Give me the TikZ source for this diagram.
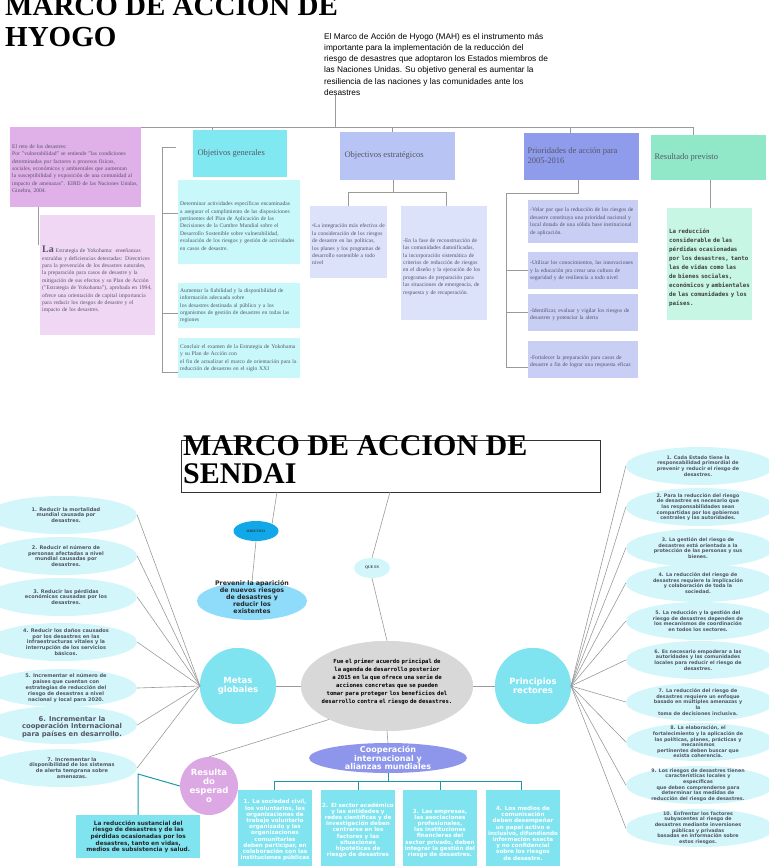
\documentclass[tikz,border=0pt]{standalone}
\usepackage{fontspec}
\setmainfont{Liberation Serif}
\newfontfamily\arial{Liberation Sans}
\newfontfamily\dvb{DejaVu Sans}
\newfontfamily\mono{DejaVu Sans Mono}
\usetikzlibrary{shapes.geometric}
\hyphenpenalty=10000 \exhyphenpenalty=10000
\definecolor{lnk}{HTML}{9A9A9A}
\definecolor{teal}{HTML}{1A9AA8}
\definecolor{pur1}{HTML}{E0B0E8}
\definecolor{pur2}{HTML}{F0D8F4}
\definecolor{ogh}{HTML}{80E8F0}
\definecolor{ogb}{HTML}{C8F8FA}
\definecolor{oeh}{HTML}{B8C4F4}
\definecolor{oeb}{HTML}{DCE2FA}
\definecolor{prh}{HTML}{8F9CEC}
\definecolor{prb}{HTML}{C8CEF4}
\definecolor{rph}{HTML}{90E8C8}
\definecolor{rpb}{HTML}{C8F6E4}
\definecolor{lcy}{HTML}{D2F6FA}
\definecolor{cyc}{HTML}{80E4F0}
\definecolor{objc}{HTML}{10A8E8}
\definecolor{prevc}{HTML}{8EDCFA}
\definecolor{grayc}{HTML}{D8D8D8}
\definecolor{coop}{HTML}{8E96EC}
\definecolor{resc}{HTML}{DCA8E4}
\definecolor{txt}{HTML}{555566}
\tikzset{
 ln/.style={draw=lnk,line width=0.6pt},
 tl/.style={draw=teal,line width=1pt},
 bx/.style={anchor=north west,inner sep=2pt,align=left,font=\fontsize{5.6}{7.4}\selectfont,text=txt},
 el/.style={ellipse,inner sep=0pt},
 sm/.style={font=\dvb\bfseries\fontsize{5}{5.8}\selectfont,text=txt,align=center},
 wt/.style={font=\dvb\bfseries\fontsize{8.5}{9}\selectfont,text=white,align=center},
 wb/.style={font=\dvb\bfseries\fontsize{5.6}{6.2}\selectfont,text=white,align=center,anchor=north,inner sep=1pt,text width=72pt},
}
\begin{document}
\begin{tikzpicture}[x=1pt,y=-1pt]
\useasboundingbox (0,0) rectangle (768,866);
% ---------------- HYOGO
\node[anchor=north west,align=left,inner sep=0,font=\bfseries\fontsize{29}{31}\selectfont] (t1) at (5,-4) {MARCO DE ACCION DE\\HYOGO};
\node[anchor=north west,align=left,inner sep=0,font=\arial\fontsize{8.3}{11.2}\selectfont] (intro) at (324,33) {El  Marco de Acción de Hyogo (MAH) es el instrumento más\\importante para la implementación de la reducción del\\riesgo de desastres que adoptaron los Estados miembros de\\las Naciones Unidas. Su objetivo general es aumentar la\\resiliencia de las naciones y las comunidades ante los\\desastres};
\coordinate (h0) at (335,127);
\draw[ln] (335,95) -- (h0);
\draw[ln] (70,127) -- (693,127);
\foreach \x/\y in {70/127,212/130,392/132,570/133,693/135}{\draw[ln] (\x,127)--(\x,\y);}
% purple
\node[bx,fill=pur1,minimum width=131pt,minimum height=80pt,text width=127pt] (p1) at (10,127) {\\El reto de los desastres:\\Por "vulnerabilidad" se entiende "las condiciones determinadas por factores o procesos físicos, sociales, económicos y ambientales que aumentan la susceptibilidad y exposición de una comunidad al impacto de amenazas". EIRD de las Naciones Unidas, Ginebra, 2004.};
\node[bx,fill=pur2,minimum width=115pt,minimum height=120pt,text width=111pt] (p2) at (40,215) {\\[8pt]{\fontsize{10}{10}\selectfont\bfseries La} Estrategia de Yokohama: enseñanzas extraídas y deficiencias detectadas: Directrices para la prevención de los desastres naturales, la preparación para casos de desastre y la mitigación de sus efectos y su Plan de Acción ("Estrategia de Yokohama"), aprobada en 1994, ofrece una orientación de capital importancia para reducir los riesgos de desastre y el impacto de los desastres.};
\draw[ln] (38,207)--(38,245);
% objetivos generales
\node[fill=ogh,minimum width=94pt,minimum height=47pt,anchor=north west,inner sep=0] (og) at (193,130) {};
\node[anchor=west,font=\fontsize{8.5}{10}\selectfont,text=txt] at (194,153) {Objetivos generales};
\node[bx,fill=ogb,minimum width=122pt,minimum height=84pt,text width=118pt] (og1) at (178,180) {\\[4pt]Determinar actividades específicas encaminadas a asegurar el cumplimiento de las disposiciones pertinentes del Plan de Aplicación de las Decisiones de la Cumbre Mundial sobre el Desarrollo Sostenible sobre vulnerabilidad, evaluación de los riesgos y gestión de actividades en casos de desastre.};
\node[bx,fill=ogb,minimum width=122pt,minimum height=45pt,text width=118pt] (og2) at (178,283) {Aumentar la fiabilidad y la disponibilidad de información adecuada sobre\\los desastres destinada al público y a los organismos de gestión de desastres en todas las regiones};
\node[bx,fill=ogb,minimum width=122pt,minimum height=40pt,text width=118pt] (og3) at (178,338) {Concluir el examen de la Estrategia de Yokohama y su Plan de Acción con\\el fin de actualizar el marco de orientación para la reducción de desastres en el siglo XXI};
\draw[ln] (176,147) -- (162,147) -- (162,372) -- (178,372);
\draw[ln] (162,213)--(178,213);
\draw[ln] (162,313)--(178,313);
% objetivos estrategicos
\node[fill=oeh,minimum width=115pt,minimum height=48pt,anchor=north west,inner sep=0] (oe) at (340,132) {};
\node[anchor=west,font=\fontsize{8.5}{10}\selectfont,text=txt] at (341,155) {Objectivos estratégicos};
\draw[ln] (393,180)--(393,192); \draw[ln] (348,192)--(446,192); \draw[ln] (348,192)--(348,206); \draw[ln] (446,192)--(446,206);
\node[bx,fill=oeb,minimum width=77pt,minimum height=72pt,text width=73pt] (oe1) at (310,206) {\\[1pt]•La integración más efectiva de la consideración de los riesgos de desastre en las políticas, los planes y los programas de desarrollo sostenible a todo nivel};
\node[bx,fill=oeb,minimum width=86pt,minimum height=114pt,text width=82pt] (oe2) at (401,206) {\\[4pt]-En la fase de reconstrucción de las comunidades damnificadas, la incorporación sistemática de criterios de reducción de riesgos en el diseño y la ejecución de los programas de preparación para las situaciones de emergencia, de respuesta y de recuperación.};
% prioridades
\node[fill=prh,minimum width=115pt,minimum height=47pt,anchor=north west,inner sep=0] (pr) at (524,133) {};
\node[anchor=west,align=left,font=\fontsize{8.5}{10}\selectfont,text=txt] at (524,156) {Prioridades de acción para\\2005-2016};
\draw[ln] (578,180)--(578,193)--(506,193)--(506,367)--(528,367);
\node[bx,fill=prb,minimum width=110pt,minimum height=43pt,text width=106pt] (pr1) at (528,200) {-Velar por que la reducción de los riesgos de desastre constituya una prioridad nacional y local dotada de una sólida base institucional de aplicación.};
\node[bx,fill=prb,minimum width=110pt,minimum height=37pt,text width=106pt] (pr2) at (528,252) {-Utilizar los conocimientos, las innovaciones y la educación pra crear una cultura de seguridad y de resiliencia a todo nivel};
\node[bx,fill=prb,minimum width=110pt,minimum height=37pt,text width=106pt] (pr3) at (528,294) {\\-Identificar, evaluar y vigilar los riesgos de desastres y potenciar la alerta};
\node[bx,fill=prb,minimum width=110pt,minimum height=37pt,text width=106pt] (pr4) at (528,341) {\\-Fortalecer la preparación para casos de desastre a fin de lograr una respuesta eficaz};
\draw[ln] (506,270)--(528,270); \draw[ln] (506,312)--(528,312);
% resultado previsto
\node[fill=rph,minimum width=115pt,minimum height=45pt,anchor=north west,inner sep=0] (rp) at (651,135) {};
\node[anchor=west,font=\fontsize{8.5}{10}\selectfont,text=txt] at (651,157) {Resultado previsto};
\draw[ln] (710,180)--(710,208);
\node[anchor=north west,fill=rpb,minimum width=85pt,minimum height=112pt,text width=81pt,inner sep=2pt,align=left,font=\mono\bfseries\fontsize{5.8}{9}\selectfont,text=black!75] (rpt) at (667,208) {\\[2pt]La reducción considerable de las pérdidas ocasionadas por los desastres, tanto las de vidas como las de bienes sociales, económicos y ambientales de las comunidades y los países.};
% ---------------- SENDAI
\node[draw=black!80,line width=0.8pt,anchor=north west,minimum width=419pt,minimum height=52pt,inner sep=0] (t2) at (181,440) {};
\node[anchor=north west,align=left,inner sep=0,font=\bfseries\fontsize{30}{28}\selectfont] at (183,435) {MARCO DE ACCION DE\\SENDAI};
\node[el,fill=objc,minimum width=45pt,minimum height=20pt] (obj) at (256,531) {};
\node[font=\bfseries\fontsize{3.6}{4}\selectfont,text=black!80] at (obj) {OBJETIVO};
\node[el,fill=prevc,minimum width=110pt,minimum height=38pt] (prev) at (252,601) {};
\node[sm,font=\dvb\bfseries\fontsize{6.3}{6.8}\selectfont,text=black!85] at (252,597) {Prevenir la aparición\\de nuevos riesgos\\de desastres y\\reducir los\\existentes};
\node[el,fill=lcy,minimum width=36pt,minimum height=20pt] (qe) at (372,568) {};
\node[font=\bfseries\fontsize{3.8}{4}\selectfont,text=black!80] at (qe) {QUE ES};
\node[el,fill=grayc,minimum width=172pt,minimum height=90pt] (cen) at (387,686) {};
\node[circle,fill=cyc,minimum size=76pt,inner sep=0] (mg) at (238,686) {};
\node[circle,fill=cyc,minimum size=76pt,inner sep=0] (pri) at (533,686) {};
\node[el,fill=coop,minimum width=158pt,minimum height=30pt] (co) at (388,758) {};
\node[wt,font=\dvb\bfseries\fontsize{8}{8.5}\selectfont] at (co) {Cooperación\\internacional y\\alianzas mundiales};
\node[circle,fill=resc,minimum size=58pt,inner sep=0] (re) at (209,786) {};
\node[wt] at (re) {Resulta\\do\\esperad\\o};
\draw[ln] (277,492) -- (obj.north east);
\draw[ln] (obj.south) -- (prev.north);
\draw[ln] (390,492) -- (qe.north);
\draw[ln] (qe.south) -- (cen.north);
\draw[ln] (mg) -- (cen); \draw[ln] (pri) -- (cen); \draw[ln] (co.north) -- (cen.south);
\draw[ln] (cen.210) -- (re.north);
% redraw nodes over lines
\node[el,fill=grayc,minimum width=172pt,minimum height=90pt] at (387,686) {};
\node[align=center,font=\mono\bfseries\fontsize{5.6}{8}\selectfont,text width=140pt,text=black] at (387,682) {Fue el primer acuerdo principal de la agenda de desarrollo posterior a 2015 en la que ofrece una serie de acciones concretas que se pueden tomar para proteger los beneficios del desarrollo contra el riesgo de desastres.};
\node[circle,fill=cyc,minimum size=76pt,inner sep=0] at (238,686) {};
\node[wt] at (238,686) {Metas\\globales};
\node[circle,fill=cyc,minimum size=76pt,inner sep=0] at (533,686) {};
\node[wt] at (533,686) {Principios\\rectores};
% left ellipses
\foreach \i/\y/\t in {1/515/{1. Reducir la mortalidad\\mundial causada por\\desastres.},
 2/556/{2. Reducir el número de\\personas afectadas a nivel\\mundial causadas por\\desastres.},
 3/597/{3. Reducir las pérdidas\\económicas causadas por los\\desastres.},
 4/642/{4. Reducir los daños causados\\por los desastres en las\\infraestructuras vitales y la\\interrupción de los servicios\\básicos.},
 5/688/{5. Incrementar el número de\\países que cuentan con\\estrategias de reducción del\\riesgo de desastres a nivel\\nacional y local para 2020.}}{
 \node[el,fill=lcy,minimum width=150pt,minimum height=38pt] (L\i) at (62,\y) {};
 \node[sm] at (66,\y) {\t};
 \draw[ln] (L\i.east) -- (200,686);
}
\node[el,fill=lcy,minimum width=150pt,minimum height=38pt] (L6) at (62,725) {};
\node[sm,font=\dvb\bfseries\fontsize{6.8}{7.5}\selectfont] at (72,727) {6. Incrementar la\\cooperación Internacional\\para países en desarrollo.};
\draw[ln] (L6.east) -- (200,686);
\node[el,fill=lcy,minimum width=150pt,minimum height=38pt] (L7) at (62,768) {};
\node[sm] at (72,768) {7. Incrementar la\\disponibilidad de los sistemas\\de alerta temprana sobre\\amenazas.};
\draw[ln] (L7.east) -- (200,686);
% right ellipses
\foreach \i/\y/\t in {1/466/{1. Cada Estado tiene la\\responsabilidad primordial de\\prevenir y reducir el riesgo de\\desastres.},
 2/507/{2. Para la reducción del riesgo\\de desastres es necesario que\\las responsabilidades sean\\compartidas por los gobiernos\\centrales y las autoridades.},
 3/548/{3. La gestión del riesgo de\\desastres está orientada a la\\protección de las personas y sus\\bienes.},
 4/583/{4. La reducción del riesgo de\\desastres requiere la implicación\\y colaboración de toda la\\sociedad.},
 5/621/{5. La reducción y la gestión del\\riesgo de desastres dependen de\\los mecanismos de coordinación\\en todos los sectores.},
 6/660/{6. Es necesario empoderar a las\\autoridades y las comunidades\\locales para reducir el riesgo de\\desastres.},
 7/702/{7. La reducción del riesgo de\\desastres requiere un enfoque\\basado en múltiples amenazas y\\la\\toma de decisiones inclusiva.},
 8/742/{8. La elaboración, el\\fortalecimiento y la aplicación de\\las políticas, planes, prácticas y\\mecanismos\\pertinentes deben buscar que\\exista coherencia.},
 9/785/{9. Los riesgos de desastres tienen\\características locales y\\específicas\\que deben comprenderse para\\determinar las medidas de\\reducción del riesgo de desastres.},
 10/828/{10. Enfrentar los factores\\subyacentes al riesgo de\\desastres mediante inversiones\\públicas y privadas\\basadas en información sobre\\estos riesgos.}}{
 \node[el,fill=lcy,minimum width=148pt,minimum height=38pt] (R\i) at (700,\y) {};
 \node[sm,font=\dvb\bfseries\fontsize{4.8}{5.6}\selectfont] at (698,\y) {\t};
 \draw[ln] (R\i.west) -- (571,686);
}
% bottom boxes
\draw[tl] (co.south) -- (388,781); \draw[tl] (274,781) -- (521,781);
\foreach \x in {274,358,440,521}{\draw[tl] (\x,781)--(\x,790);}
\node[wb,fill=cyc,minimum width=74pt,minimum height=80pt] (b1) at (275,790) {1. La sociedad civil, los voluntarios, las organizaciones de trabajo voluntario organizado y las organizaciones comunitarias deben participar, en colaboración con las instituciones públicas};
\node[wb,fill=cyc,minimum width=74pt,minimum height=80pt] (b2) at (358,790) {2. El sector académico y las entidades y redes científicas y de investigación deben centrarse en los\\factores y las situaciones hipotéticas de riesgo de desastres};
\node[wb,fill=cyc,minimum width=74pt,minimum height=80pt] (b3) at (440,790) {\\[4pt]3. Las empresas, las asociaciones profesionales, las instituciones financieras del sector privado, deben integrar la gestión del riesgo de desastres.};
\node[wb,fill=cyc,minimum width=74pt,minimum height=80pt] (b4) at (523,790) {\\[4pt]4. Los medios de comunicación deben desempeñar un papel activo e inclusivo, difundiendo información exacta y no confidencial sobre los riesgos de desastre.};
\draw[tl] (re.west) -- (138,774) -- (138,815);
\node[anchor=north west,fill=cyc,minimum width=124pt,minimum height=43pt,text width=122pt,inner sep=1pt,align=center,font=\dvb\bfseries\fontsize{5.8}{6.6}\selectfont,text=black!85] (rb) at (76,815) {La reducción sustancial del riesgo de desastres y de las pérdidas ocasionadas por los desastres, tanto en vidas, medios de subsistencia y salud.};
\end{tikzpicture}
\end{document}
